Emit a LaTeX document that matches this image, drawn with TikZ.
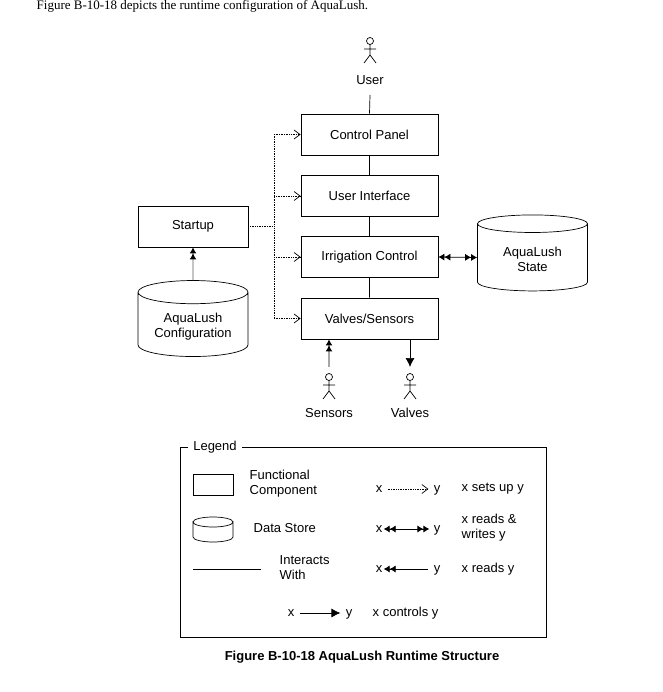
\documentclass[tikz,border=0pt]{standalone}
\usepackage{fontspec}
\setmainfont{Liberation Sans}
\newfontfamily\serifx{Liberation Serif}
\usetikzlibrary{arrows.meta,shapes.geometric}
\begin{document}
\begin{tikzpicture}[x=1pt,y=-1pt,line width=0.7pt,
  font=\fontsize{13}{15}\selectfont,
  comp/.style={draw,minimum width=137pt,minimum height=41pt,inner sep=0pt},
  store/.style={draw,cylinder,shape border rotate=90,aspect=0.3,minimum width=110pt,minimum height=76pt,inner sep=0pt,align=center},
  setsup/.style={densely dotted,-{Straight Barb[length=6pt,width=9pt]}},
  rw/.style={{Latex[length=6pt,width=7pt]Latex[length=6pt,width=7pt]}-{Latex[length=6pt,width=7pt]Latex[length=6pt,width=7pt]}},
  reads/.style={{Latex[length=6pt,width=7pt]Latex[length=6pt,width=7pt]}-},
  ctrl/.style={-{Latex[length=9pt,width=9pt]}},
  lbl/.style={text height=9pt,text depth=3pt,inner sep=1pt},
  gap/.style={shorten >=4pt,shorten <=4pt},
  actor/.pic={\draw (0,-11) circle (3.5); \draw (0,-7.5)--(0,3) (-6,-3)--(6,-3) (-6,11)--(0,3)--(6,11);}
]
\useasboundingbox (0,0) rectangle (662,692);
\node[anchor=west,font=\serifx\fontsize{13}{15}\selectfont] (toptxt) at (33,6) {Figure B-10-18 depicts the runtime configuration of AquaLush.};

\pic at (370,52) {actor};
\node (user) at (370,80) {User};
\coordinate (usr) at (370,95);
\node[comp] (cp) at (369.5,134.5) {Control Panel};
\node[comp] (ui) at (369.5,196) {User Interface};
\node[comp] (ic) at (369.5,257) {Irrigation Control};
\node[comp] (vs) at (369.5,318.5) {Valves/Sensors};
\node[draw,minimum width=110pt,minimum height=41pt] (st) at (193,226.5) {Startup};
\node[store] (cfg) at (193,324.5) {\\[-2pt]AquaLush\\Configuration};
\node[store] (sta) at (532.5,257.5) {\\[-2pt]AquaLush\\State};

\draw (usr)--(cp.north) (cp)--(ui) (ui)--(ic) (ic)--(vs);
\coordinate (j) at (274,226.5);
\draw[densely dotted] (st.east)--(j);
\foreach \b in {cp,ui,ic,vs}{\draw[setsup] (j) |- (\b.west);}
\draw[gray!70,line width=1.4pt,-{Latex[length=6pt,width=7pt,black]Latex[length=6pt,width=7pt,black]}] (cfg.north)--(st.south);
\draw[rw] (ic.east)--(sta.west);

\pic at (329,388) {actor};
\node (sen) at (329,413) {Sensors};
\pic at (410,388) {actor};
\node (val) at (410,413) {Valves};
\coordinate (sa) at (329,367);
\coordinate (va) at (410,367);
\draw[gray!70,line width=1.2pt,-{Latex[length=6pt,width=7pt,black]Latex[length=6pt,width=7pt,black]}] (sa)--(vs.south -| sa);
\draw[ctrl] (vs.south -| va)--(va);

% legend
\draw (180,447) rectangle (546,637);
\node[fill=white,inner sep=5pt] (lg) at (215,447) {Legend};
\node[draw,minimum width=40pt,minimum height=21pt] (lr) at (213,484.5) {};
\draw (193,522) arc[start angle=180,end angle=360,x radius=20,y radius=5] (193,522) arc[start angle=180,end angle=0,x radius=20,y radius=5] -- (233,537) arc[start angle=0,end angle=180,x radius=20,y radius=5] -- cycle;
\node[inner sep=0pt,minimum width=40pt,minimum height=30pt] (lc) at (213,529) {};
\coordinate (l1) at (193,569); \coordinate (l2) at (261,569);
\draw (l1)--(l2);
\node[anchor=west,align=left] (t1) at (246,484) {Functional\\Component};
\node[anchor=west] (t2) at (250,528) {Data Store};
\node[anchor=west,align=left] (t3) at (276,568) {Interacts\\With};

\node[lbl] (x1) at (379,489) {x}; \node[lbl] (y1) at (437,489) {y};
\draw[setsup,gap] (x1)--(y1);
\node[lbl] (x2) at (379,529) {x}; \node[lbl] (y2) at (437,529) {y};
\draw[rw,shorten >=3pt] (x2)--(y2);
\node[lbl] (x3) at (379,569) {x}; \node[lbl] (y3) at (437,569) {y};
\draw[reads,shorten >=4pt] (x3)--(y3);
\node[lbl] (x4) at (291,613) {x}; \node[lbl] (y4) at (349,613) {y};
\draw[ctrl,gap] (x4)--(y4);
\node[anchor=west] (d1) at (458,489) {x sets up y};
\node[anchor=west,align=left] (d2) at (458,528) {x reads \&\\writes y};
\node[anchor=west] (d3) at (458,569) {x reads y};
\node[anchor=west] (d4) at (369,613) {x controls y};
\node[font=\bfseries\fontsize{13}{15}\selectfont] (cap) at (362,657) {Figure B-10-18 AquaLush Runtime Structure};
\end{tikzpicture}
\end{document}
